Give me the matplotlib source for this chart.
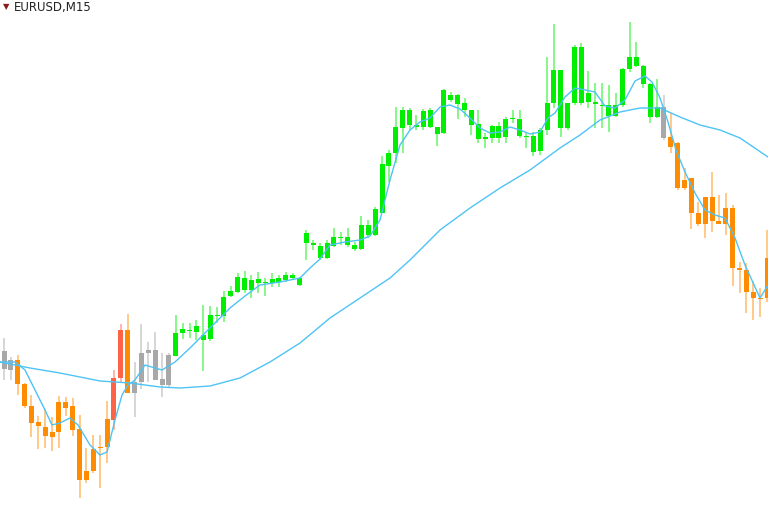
import numpy as np
import matplotlib
matplotlib.use("Agg")
import matplotlib.pyplot as plt

# candle levels (screen units, bigger = lower price)
body_top = [351,360,360,384,406,422,427,432,402,402,406,429,471,449,447,419,378,330,330,382,
            353,350,350,379,355,333,329,330,326,335,315,315,297,291,277,278,280,279,282,279,
            278,275,275,278,233,243,246,243,237,237,237,245,225,225,209,164,153,127,110,110,
            125,111,110,127,90,95,95,103,110,124,137,126,126,119,118,119,136,136,130,103,
            70,70,103,47,47,93,102,105,105,105,69,57,57,66,84,107,107,137,143,180,
            178,213,197,197,221,208,208,268,270,292,298,258]
body_bot = [369,370,384,406,423,426,436,437,432,408,430,480,480,471,448,447,420,378,393,393,
            382,353,380,385,385,356,333,331,332,340,339,316,316,296,292,290,290,283,283,283,
            282,280,278,285,243,245,258,258,246,238,245,249,249,235,235,213,166,153,128,125,
            127,127,127,134,133,100,104,110,125,139,139,138,138,137,119,136,137,152,151,130,
            103,128,128,103,103,102,104,106,116,116,105,69,66,84,117,117,138,147,188,188,
            213,224,224,221,224,224,268,270,292,298,299,298]
wick_hi = [338,357,355,383,395,416,409,417,396,397,398,415,448,435,435,401,370,324,314,362,
           324,342,332,353,353,315,323,323,320,305,306,307,291,286,273,271,275,272,278,273,
           275,272,273,277,230,240,243,240,228,232,228,242,216,220,207,156,150,107,107,108,
           115,109,108,127,89,92,94,98,110,110,133,125,122,117,110,110,133,132,128,57,
           24,70,103,45,43,71,83,83,85,93,68,22,42,65,83,79,95,113,142,168,
           178,202,197,172,195,193,205,262,263,281,288,230]
wick_lo = [380,380,395,408,437,449,448,451,448,416,436,498,483,473,488,463,430,382,393,417,
           389,382,380,397,388,356,339,338,340,371,341,323,322,297,293,293,298,293,296,287,
           287,282,280,286,260,250,260,259,247,245,247,251,250,238,236,213,182,163,153,130,
           130,130,128,146,134,102,119,117,135,143,148,143,143,143,123,138,148,156,155,135,
           108,137,130,105,105,108,128,128,132,117,107,72,67,88,123,118,140,153,190,190,
           229,226,238,232,224,235,286,293,313,320,317,302]
# g = gray, b = bull green, o = bear orange, r = red
kind = list("gg" + "o" * 14 + "rr" + "o" + "g" * 6 + "b" * 71 + "g" + "o" * 15)

# moving averages (screen units)
fast_x = [0,15,25,45,52,60,70,78,90,100,107,115,122,128,135,145,155,162,175,190,200,215,230,245,260,
          280,300,310,320,330,345,360,370,380,390,400,410,420,430,440,450,460,470,480,490,500,510,
          520,530,540,548,555,565,575,585,595,605,615,625,635,645,652,660,668,676,685,695,705,715,
          725,735,745,760,768]
fast_y = [362,362,370,410,425,423,418,425,445,455,452,420,395,385,380,365,368,370,362,348,338,323,
          308,296,285,282,278,268,259,245,242,240,236,220,180,145,130,122,118,107,105,109,118,128,
          133,132,127,130,134,132,118,113,97,88,90,92,106,108,100,81,76,82,98,122,150,172,193,210,
          215,218,238,265,298,285]
slow_x = [0,30,60,100,130,160,180,210,240,270,300,330,360,390,410,440,470,500,530,560,580,600,620,
          640,660,680,700,720,740,768]
slow_y = [362,368,373,381,383,387,388,386,378,362,343,318,298,278,260,230,208,188,170,148,135,120,
          112,108,108,117,125,130,138,157]

colors = {"g": "#a8a8a8", "b": "#00ee00", "o": "#ff8c00", "r": "#ff6347"}

fig = plt.figure(figsize=(7.68, 5.08), dpi=100)
ax = fig.add_axes([0, 0, 1, 1])
ax.set_xlim(0, 768)
ax.set_ylim(508, 0)
ax.axis("off")

step = 763 / 111
for i in range(len(kind)):
    x = 4 + i * step
    c = colors[kind[i]]
    ax.vlines(x, wick_hi[i], wick_lo[i], color=c, alpha=0.55, lw=1.2)
    h = max(body_bot[i] - body_top[i], 1)
    ax.bar(x, h, bottom=body_top[i], width=5, color=c, lw=0)

ax.plot(slow_x, slow_y, color="#4ec4f5", lw=1.0)
ax.plot(fast_x, fast_y, color="#4ec4f5", lw=1.0)

ax.text(3, 7, "▼", color="#8b1a1a", fontsize=6, va="center")
ax.text(14, 7, "EURUSD,M15", color="#222222", fontsize=8.5, va="center")

fig.savefig("out.png", dpi=100)
